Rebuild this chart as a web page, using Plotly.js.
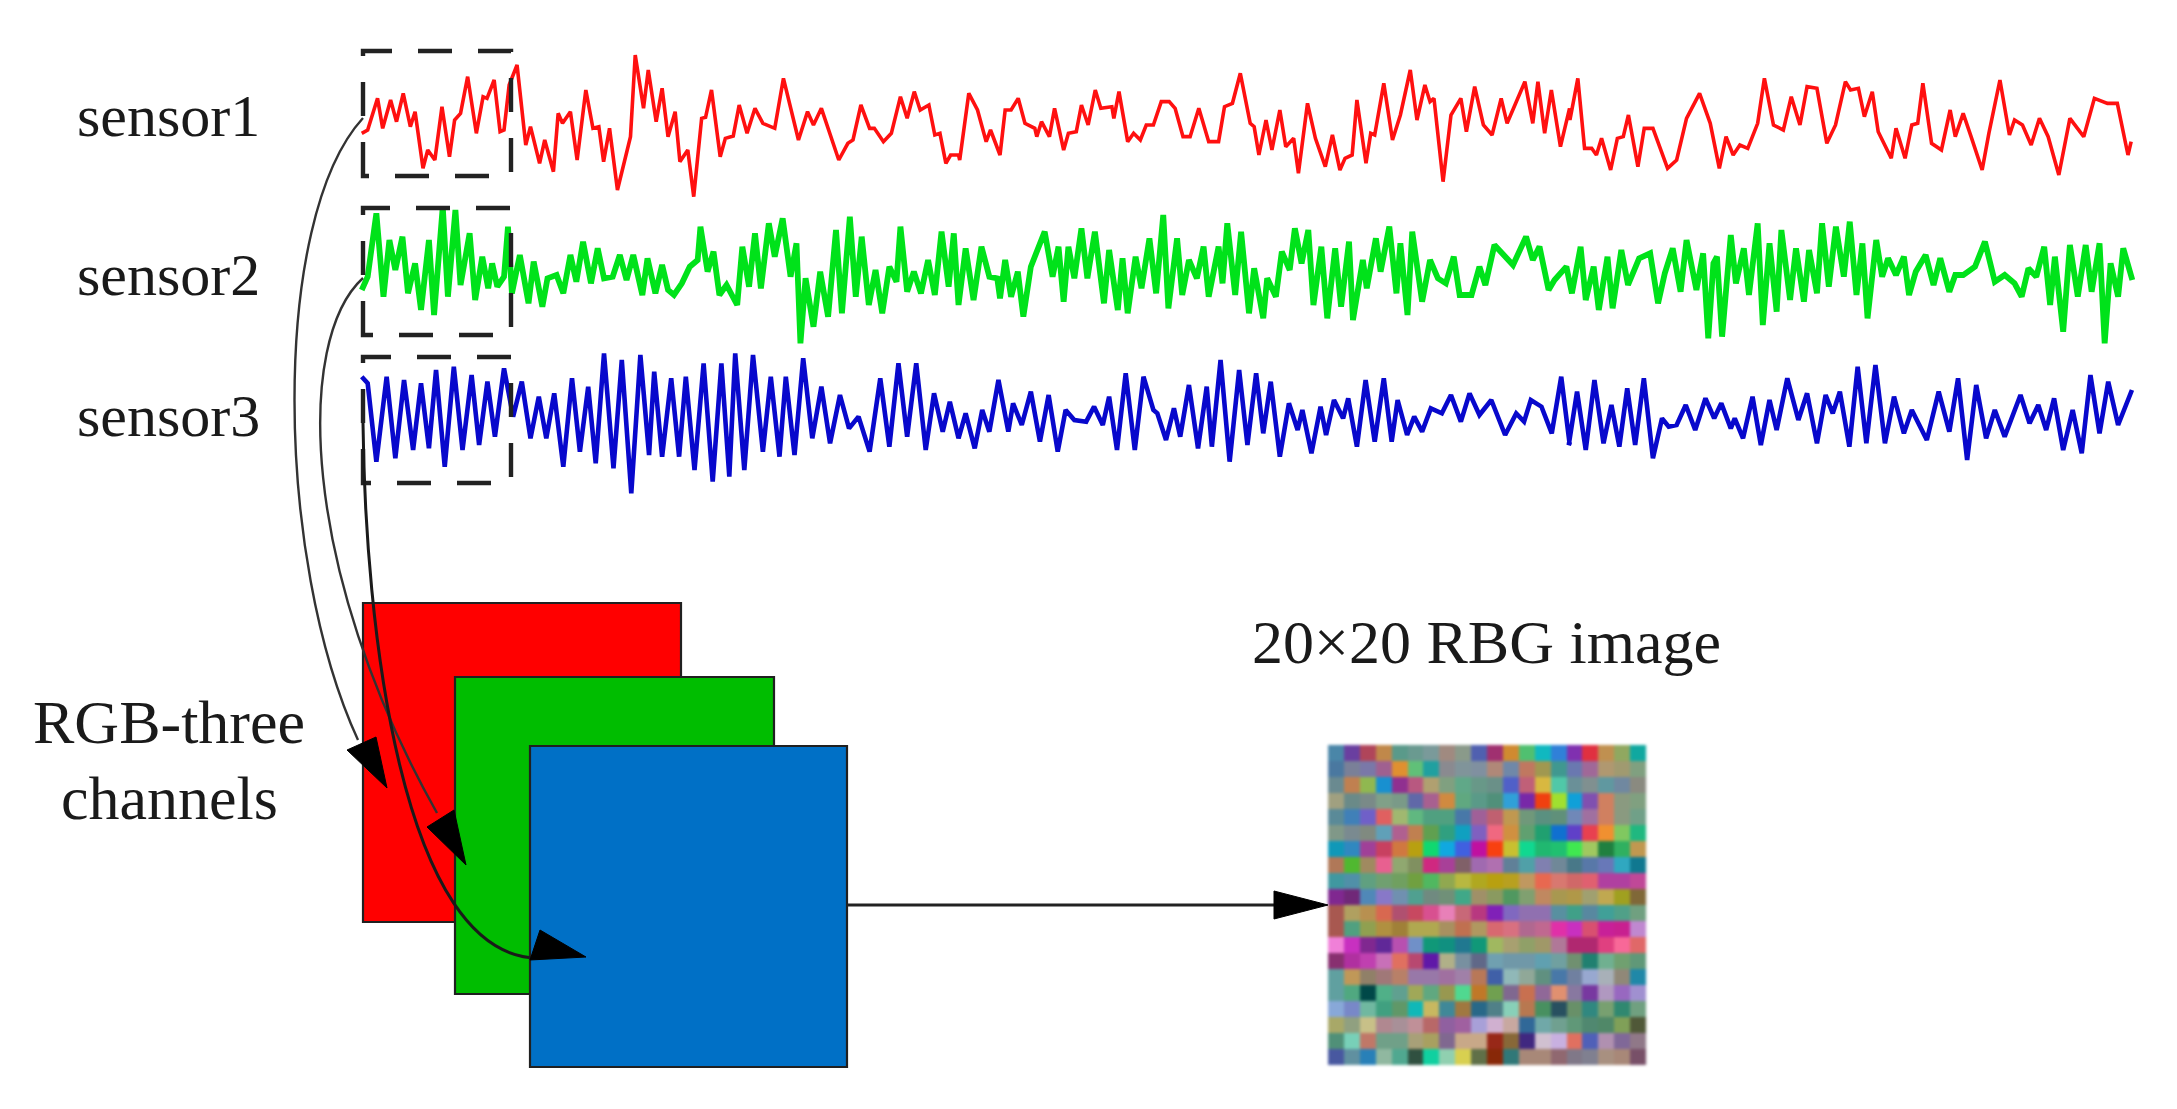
<!DOCTYPE html>
<html>
<head>
<meta charset="utf-8">
<script src="https://cdn.plot.ly/plotly-3.0.1.min.js"></script>
<style>
  html, body { margin: 0; padding: 0; background: #fff; }
  #chart { width: 2177px; height: 1109px; }
  .imagelayer image { filter: blur(1.6px); }
  .scatterlayer { filter: blur(0.7px); }
</style>
</head>
<body>
<div id="chart"></div>
<script>
// signals in three panels, as sample,reading pairs
const PANEL_OFFSETS = [0, 1543, 3087];

const sensor1Left = [55,310, 70,300, 95,205, 108,295, 128,210, 143,275, 160,190, 178,290, 190,245, 210,415, 222,360, 240,390, 258,230, 277,380, 290,270, 305,250, 323,140, 345,310, 362,200, 372,205, 390,150, 405,305, 415,300, 428,165, 448,105, 470,345, 482,290, 505,400, 518,330, 540,425, 552,250, 563,280, 583,245, 600,390, 622,180, 640,295, 655,290, 667,395, 682,295, 702,480, 735,320, 747,75, 768,235, 780,120, 800,275, 815,175, 830,320, 848,245, 860,395, 880,360, 895,500, 915,265, 925,262, 940,180, 962,380, 975,325, 995,318, 1010,225, 1030,310, 1050,235, 1070,280, 1100,295, 1122,145, 1160,330, 1183,245, 1198,285, 1218,235, 1262,390, 1285,340, 1298,330, 1318,225, 1340,295, 1352,295, 1375,335, 1395,310, 1418,200, 1435,265, 1453,185, 1468,240, 1490,225, 1505,315, 1518,310, 1533,400, 1545,375, 1565,375];
const sensor1Middle = [25,390, 48,190, 70,240, 92,335, 103,300, 127,375, 140,240, 155,240, 173,205, 190,280, 215,295, 220,320, 232,275, 252,320, 265,235, 288,360, 300,310, 320,305, 333,225, 350,285, 368,180, 382,235, 410,230, 415,265, 428,185, 450,335, 465,310, 482,330, 497,285, 515,285, 535,215, 555,215, 570,235, 590,320, 608,320, 630,235, 655,335, 680,335, 695,230, 715,220, 735,130, 760,280, 770,290, 782,375, 800,270, 815,360, 835,240, 850,350, 870,325, 882,430, 905,220, 925,325, 950,410, 968,315, 987,420, 1000,385, 1018,375, 1030,210, 1053,400, 1065,310, 1075,315, 1098,160, 1120,330, 1140,255, 1165,120, 1182,270, 1202,165, 1215,215, 1225,205, 1248,455, 1268,255, 1293,205, 1307,305, 1328,170, 1350,285, 1372,315, 1395,205, 1410,280, 1432,220, 1455,155, 1475,280, 1488,155, 1505,310, 1522,180, 1545,350, 1568,235];
const sensor1Right = [25,270, 45,145, 62,355, 80,355, 92,375, 105,325, 128,420, 145,325, 160,320, 173,255, 197,410, 213,295, 235,295, 272,415, 295,390, 320,265, 353,190, 380,280, 403,415, 420,320, 438,375, 455,345, 475,355, 500,280, 517,145, 540,285, 565,300, 585,200, 607,285, 625,170, 650,175, 675,340, 697,285, 722,155, 735,180, 755,175, 770,260, 790,185, 805,305, 838,385, 850,295, 873,385, 890,285, 905,280, 918,160, 940,340, 965,360, 987,240, 1000,320, 1020,250, 1040,320, 1068,420, 1085,310, 1113,150, 1137,315, 1150,270, 1170,285, 1192,345, 1213,265, 1235,320, 1262,435, 1290,265, 1325,320, 1352,205, 1385,220, 1410,220, 1437,375, 1445,335];

const sensor2Left = [55,780, 70,740, 92,550, 110,800, 125,630, 140,720, 158,620, 172,790, 190,700, 205,840, 225,630, 238,855, 260,530, 273,800, 292,540, 305,765, 328,610, 342,810, 360,680, 375,775, 385,700, 398,770, 415,740, 425,590, 435,790, 455,675, 477,820, 490,695, 512,830, 525,745, 548,735, 565,790, 583,675, 598,755, 615,635, 635,760, 652,655, 668,745, 690,740, 708,675, 725,750, 742,675, 765,795, 778,685, 798,790, 815,705, 830,780, 845,795, 865,760, 885,710, 905,690, 912,590, 930,725, 945,665, 960,795, 978,765, 1005,825, 1018,650, 1035,770, 1050,610, 1065,775, 1085,580, 1100,680, 1120,565, 1140,740, 1155,640, 1165,940, 1178,745, 1198,890, 1215,725, 1235,860, 1255,600, 1270,850, 1290,560, 1305,800, 1320,620, 1338,825, 1355,720, 1372,850, 1390,710, 1408,755, 1418,590, 1435,785, 1452,725, 1470,790, 1488,690, 1505,795, 1522,605, 1540,770, 1553,610, 1565,825];
const sensor2Middle = [40,655, 60,810, 80,650, 100,740, 120,745, 127,805, 140,690, 155,800, 172,725, 186,860, 205,710, 240,605, 260,740, 275,650, 288,815, 300,650, 315,745, 333,595, 348,745, 367,605, 390,820, 403,660, 425,840, 437,685, 450,850, 470,680, 485,775, 505,625, 522,790, 540,555, 553,835, 575,625, 588,795, 605,690, 625,745, 642,650, 655,800, 680,650, 690,760, 702,580, 722,795, 737,605, 757,850, 770,715, 793,865, 803,745, 825,800, 840,665, 860,720, 873,595, 890,700, 907,600, 920,825, 940,650, 955,865, 975,655, 990,830, 1010,635, 1020,870, 1045,690, 1055,775, 1078,625, 1090,725, 1112,590, 1130,790, 1140,640, 1158,855, 1170,605, 1195,815, 1215,690, 1235,745, 1255,760, 1275,680, 1290,795, 1320,795, 1340,710, 1355,765, 1378,645, 1395,665, 1425,705, 1458,620, 1475,690, 1492,650, 1515,780, 1530,750, 1560,710];
const sensor2Right = [30,790, 52,650, 65,810, 85,710, 98,840, 120,680, 133,835, 155,660, 172,765, 200,685, 228,670, 248,820, 265,730, 285,655, 305,785, 320,630, 345,780, 362,670, 375,925, 388,700, 397,680, 410,920, 432,615, 445,760, 465,655, 478,795, 500,580, 513,885, 530,640, 548,845, 560,600, 582,810, 597,655, 617,815, 630,660, 650,790, 663,580, 680,770, 698,590, 718,740, 733,575, 750,795, 765,640, 778,865, 800,630, 815,740, 830,685, 850,735, 870,680, 883,795, 900,725, 925,675, 945,765, 962,685, 985,785, 1000,735, 1020,735, 1050,710, 1075,635, 1100,755, 1125,735, 1150,760, 1168,800, 1185,715, 1205,740, 1225,650, 1240,825, 1252,680, 1273,905, 1290,645, 1310,800, 1330,645, 1345,785, 1365,640, 1378,940, 1393,700, 1412,800, 1425,655, 1448,750];

const sensor3Left = [55,1040, 70,1060, 92,1295, 118,1040, 140,1285, 162,1050, 185,1260, 205,1060, 225,1255, 243,1020, 265,1310, 288,1010, 310,1260, 333,1035, 352,1245, 373,1055, 392,1220, 415,1015, 438,1160, 460,1055, 482,1225, 503,1100, 522,1225, 542,1090, 565,1310, 587,1045, 607,1265, 628,1070, 647,1300, 668,970, 692,1315, 713,990, 737,1390, 760,975, 782,1275, 795,1025, 815,1280, 838,1045, 858,1280, 875,1040, 897,1320, 920,1000, 943,1355, 965,1000, 985,1340, 1000,970, 1023,1320, 1045,975, 1070,1265, 1090,1040, 1112,1280, 1128,1040, 1150,1275, 1172,985, 1195,1225, 1218,1070, 1240,1240, 1265,1095, 1288,1195, 1312,1160, 1340,1265, 1367,1045, 1390,1250, 1413,1000, 1435,1220, 1458,1000, 1482,1260, 1503,1090, 1525,1205, 1543,1115, 1565,1225];
const sensor3Middle = [40,1150, 63,1255, 82,1140, 100,1205, 123,1050, 148,1205, 160,1120, 182,1185, 205,1085, 228,1235, 250,1095, 273,1265, 293,1140, 315,1170, 345,1175, 365,1130, 387,1185, 403,1100, 423,1260, 445,1030, 468,1260, 490,1040, 515,1140, 525,1150, 547,1230, 567,1135, 583,1220, 605,1065, 628,1255, 650,1070, 663,1250, 685,990, 708,1295, 732,1020, 753,1245, 775,1030, 793,1210, 812,1055, 835,1280, 858,1120, 880,1200, 892,1140, 915,1270, 938,1130, 952,1215, 972,1110, 995,1165, 1008,1105, 1030,1250, 1052,1050, 1075,1235, 1098,1045, 1118,1235, 1133,1110, 1157,1215, 1175,1160, 1195,1205, 1217,1135, 1245,1150, 1268,1095, 1293,1175, 1315,1090, 1340,1155, 1370,1110, 1405,1215, 1433,1150, 1453,1175, 1470,1110, 1497,1130, 1523,1210, 1547,1040, 1568,1240];
const sensor3Right = [22,1245, 43,1085, 65,1260, 87,1050, 110,1240, 130,1125, 150,1250, 170,1075, 190,1245, 212,1045, 235,1285, 258,1165, 275,1190, 295,1185, 318,1125, 342,1200, 368,1105, 390,1165, 408,1120, 432,1195, 442,1165, 463,1225, 487,1100, 508,1245, 530,1110, 548,1200, 575,1045, 603,1170, 625,1090, 650,1240, 672,1095, 690,1150, 708,1085, 732,1250, 753,1010, 775,1240, 798,1005, 822,1240, 845,1100, 870,1210, 890,1140, 928,1230, 958,1085, 985,1205, 1007,1045, 1030,1290, 1053,1065, 1078,1225, 1100,1140, 1125,1220, 1165,1095, 1188,1180, 1210,1125, 1230,1200, 1250,1105, 1273,1260, 1297,1140, 1320,1270, 1342,1035, 1365,1210, 1387,1055, 1412,1185, 1447,1080];

// the 20x20 picture, one row of colours per line
const imageRows = [
  ["#4a86a8","#6a3fa0","#b0455a","#c0884a","#5a9a8a","#6a9a90","#7a9a9a","#a08a80","#8a9a8a","#5060b0","#a03070","#d08a30","#50c070","#10b8c0","#3080d8","#8030b0","#e03040","#c09050","#90a860","#10a8a0"],
  ["#4a78a0","#7a8098","#7a78a8","#a06090","#e09030","#60c078","#20a0a0","#8a8a90","#80949a","#8090a0","#b08878","#7088a8","#c07860","#a09850","#409890","#6a78b0","#a06898","#b09870","#a09a70","#80a080"],
  ["#6a8a90","#c08050","#90b850","#1890d0","#903090","#b85880","#b0a070","#80a080","#60a888","#689888","#6a9088","#5060c8","#c06078","#d8b840","#50c8a8","#6a9098","#809090","#6098a0","#7088a0","#8a8a80"],
  ["#a0a080","#6a8a88","#7a8a88","#80a088","#7a9a88","#6068a8","#a86090","#d08a40","#60a880","#5a9a88","#50907a","#30a0d8","#7828a8","#f04010","#a0e030","#10a0d8","#8050b0","#d08060","#8a9a80","#80a080"],
  ["#5a8a98","#4080b8","#7060c8","#e06060","#a0b870","#60b880","#50a080","#50a080","#4878a8","#a06098","#c06070","#c09850","#70987a","#5a9080","#60907a","#7088b8","#a070a0","#d08060","#8a9a80","#70a088"],
  ["#809888","#7a8a90","#808a80","#60a0b8","#b06090","#c08050","#60a050","#30a080","#10a0c0","#8060c0","#f06880","#d09040","#60a070","#20a070","#1070d0","#6040c8","#e84050","#f09030","#80c860","#20b880"],
  ["#1098b8","#3088c0","#a04098","#c84060","#d07840","#b8a010","#10d870","#10a8e0","#4060e0","#c010a0","#f84010","#c8c030","#10d890","#20b870","#20c070","#40e850","#a0c860","#208040","#30b060","#c09850"],
  ["#b07858","#50b830","#a08a60","#e86090","#90a870","#809060","#d02880","#a84098","#806068","#a06ab0","#b070b0","#608098","#50a0a8","#8080b0","#708898","#487888","#5878a8","#6878b8","#30a8c0","#107890"],
  ["#4098a0","#5090a8","#60a080","#70a070","#70a060","#70a040","#50b860","#90a850","#b8b840","#b0a820","#b8a010","#b8a020","#c09860","#e86850","#d87870","#d06868","#e06070","#b040a0","#b040a0","#c04898"],
  ["#802890","#702878","#5088b8","#8878c8","#7090b0","#50a090","#708a80","#709078","#40a888","#a09068","#8a9a60","#509860","#80a070","#c08860","#a89850","#b09848","#a0a070","#c0a850","#a0a020","#806838"],
  ["#a85850","#b0a060","#b89050","#d86850","#b05070","#c84860","#d85090","#e880b8","#c86878","#b83880","#8020b8","#8068c0","#9070b0","#9070b0","#5890a0","#40a088","#5888a0","#40a098","#50a088","#70a080"],
  ["#a85850","#50a080","#90a050","#b09040","#a08038","#b0a850","#b0a850","#a89060","#c07050","#b09860","#d86870","#d87080","#b06890","#c06890","#e030a8","#c830c0","#d85070","#c82098","#c82090","#c088d0"],
  ["#f080d8","#c830c0","#802890","#602898","#b850b0","#7090c8","#109878","#109080","#207890","#109878","#a0b860","#a8a070","#90a068","#a09868","#b07898","#b02870","#b02870","#e04080","#f86898","#e06868"],
  ["#883070","#b030a0","#c040b0","#c870b8","#e07060","#b84870","#6018a8","#b0b088","#7890a0","#606888","#70a0b0","#7098a8","#7098a8","#60a0b0","#70a0a0","#709070","#208070","#70b090","#70a070","#609878"],
  ["#60a0a0","#c09858","#908068","#a07878","#b88068","#9878a8","#9878a8","#a070a0","#a080a8","#b87858","#4060a8","#90b8b8","#90a898","#609080","#4878a8","#7080a0","#98a8d0","#a8b0b8","#908878","#2088a8"],
  ["#60a0a0","#50a880","#004848","#50b088","#60a090","#a0a858","#60a880","#989850","#50d890","#c07828","#70a050","#806890","#c87050","#906898","#e09070","#8878a0","#7838a0","#b098c0","#9868c0","#a090d0"],
  ["#88a8d8","#7888c8","#70b8a0","#40a080","#609868","#10b8b8","#c8b860","#408898","#a07840","#286888","#508088","#88d0b8","#b87850","#489060","#285060","#689068","#308880","#78a070","#308870","#70a080"],
  ["#a8a868","#90a080","#c8c088","#b08890","#a89098","#c09098","#b86868","#9060a0","#a060a0","#a8a0d8","#d0b0d0","#c8a8a0","#306898","#70a8a8","#70a090","#609878","#508870","#508868","#80a058","#505838"],
  ["#509078","#78d0b8","#c07868","#70a088","#70a088","#a8a078","#a8a060","#806890","#c8a888","#c8a888","#982818","#886838","#402880","#d0c0d0","#c8b0e0","#e07060","#5060b8","#b090b0","#806898","#907888"],
  ["#4858a0","#6090a0","#2880b8","#90b8a0","#50a890","#305040","#10d0a0","#90d0b0","#d8d050","#607048","#882808","#307878","#a88878","#a88878","#906870","#807888","#808090","#a89080","#a88878","#785068"]
];

const FONT = "Liberation Serif";
const W = 2177;
const H = 1109;

function joinPanels(panels) {
  const x = [];
  const y = [];
  panels.forEach((list, p) => {
    for (let i = 0; i < list.length; i += 2) {
      x.push(list[i] + PANEL_OFFSETS[p]);
      y.push(list[i + 1]);
    }
  });
  return { x, y };
}

function hexToRgb(hex) {
  return [1, 3, 5].map((i) => parseInt(hex.slice(i, i + 2), 16));
}

function signalTrace(panels, color, width, yaxis) {
  const s = joinPanels(panels);
  return {
    x: s.x,
    y: s.y,
    type: "scatter",
    mode: "lines",
    line: { color: color, width: width },
    xaxis: "x",
    yaxis: yaxis,
    hoverinfo: "skip",
  };
}

const traces = [
  signalTrace([sensor1Left, sensor1Middle, sensor1Right], "#ff1010", 3.6, "y"),
  signalTrace([sensor2Left, sensor2Middle, sensor2Right], "#00e21a", 5.8, "y2"),
  signalTrace([sensor3Left, sensor3Middle, sensor3Right], "#0808cc", 4.6, "y3"),
  {
    type: "image",
    z: imageRows.map((row) => row.map(hexToRgb)),
    colormodel: "rgb",
    x0: 1336,
    dx: 15.9,
    y0: 753,
    dy: 16,
    xaxis: "x4",
    yaxis: "y4",
    hoverinfo: "skip",
  },
];

function hidden(extra) {
  return Object.assign({ visible: false, fixedrange: true, showgrid: false, zeroline: false }, extra);
}

// y domain from a pixel band of the page
function band(top, bottom) {
  return [1 - bottom / H, 1 - top / H];
}

function frameShape(x0, y0, x1, y1, fill) {
  return {
    type: "rect", xref: "x4", yref: "y4", x0, y0, x1, y1,
    fillcolor: fill, line: { color: "#202020", width: 2.2 }, layer: "below",
  };
}

function pathShape(path, color, width, fill, dash) {
  return {
    type: "path", xref: "x4", yref: "y4", path,
    fillcolor: fill || "rgba(0,0,0,0)",
    line: { color, width, dash: dash || "solid" },
  };
}

function dashedBox(y0, y1) {
  return pathShape(`M 363 ${y1} L 363 ${y0} L 511 ${y0} L 511 ${y1} Z`, "#222", 4.4, null, "34px,26px");
}

const shapes = [
  frameShape(363, 603, 681, 922, "#ff0000"),
  frameShape(455, 677, 774, 994, "#00bd00"),
  frameShape(530, 746, 847, 1067, "#0070c6"),
  dashedBox(51, 176),
  dashedBox(208, 335),
  dashedBox(357, 483),
  pathShape("M 363 118 C 270 220 275 560 358 740", "#333", 2.4),
  pathShape("M 363 278 C 295 340 300 570 437 813", "#333", 2.4),
  pathShape("M 363 423 C 365 620 400 960 540 958", "#1a1a1a", 3),
  pathShape("M 847 905 L 1280 905", "#222", 3),
  pathShape("M 387 788 L 347 750 L 376 737 Z", "#000", 1, "#000"),
  pathShape("M 466 865 L 427 827 L 454 810 Z", "#000", 1, "#000"),
  pathShape("M 586 957 L 540 930 L 530 960 Z", "#000", 1, "#000"),
  pathShape("M 1328 905 L 1274 891 L 1274 919 Z", "#000", 1, "#000"),
];

function label(text, x, y, anchor, size) {
  return {
    text, x: x / W, y: 1 - y / H, xref: "paper", yref: "paper",
    xanchor: anchor, yanchor: "middle", showarrow: false,
    font: { family: FONT, size: size, color: "#1a1a1a" },
  };
}

const annotations = [
  label("sensor1", 75, 116, "left", 60),
  label("sensor2", 75, 275, "left", 60),
  label("sensor3", 75, 416, "left", 60),
  label("RGB-three", 169, 722, "center", 62),
  label("channels", 169, 798, "center", 62),
  label("20×20 RBG image", 1486, 642, "center", 62),
];

const layout = {
  width: W,
  height: H,
  margin: { l: 0, r: 0, t: 0, b: 0 },
  paper_bgcolor: "#fff",
  plot_bgcolor: "rgba(0,0,0,0)",
  showlegend: false,
  xaxis: hidden({ domain: [340 / W, 1], range: [0, 4648] }),
  yaxis: hidden({ domain: band(30, 200), range: [510, 0] }),
  yaxis2: hidden({ domain: band(200, 350), range: [960, 510] }),
  yaxis3: hidden({ domain: band(350, 500), range: [1410, 960] }),
  xaxis4: hidden({ domain: [0, 1], range: [0, W], anchor: "y4" }),
  yaxis4: hidden({ domain: [0, 1], range: [H, 0], anchor: "x4" }),
  shapes,
  annotations,
};

Plotly.newPlot("chart", traces, layout, { displayModeBar: false, staticPlot: true });
</script>
</body>
</html>
